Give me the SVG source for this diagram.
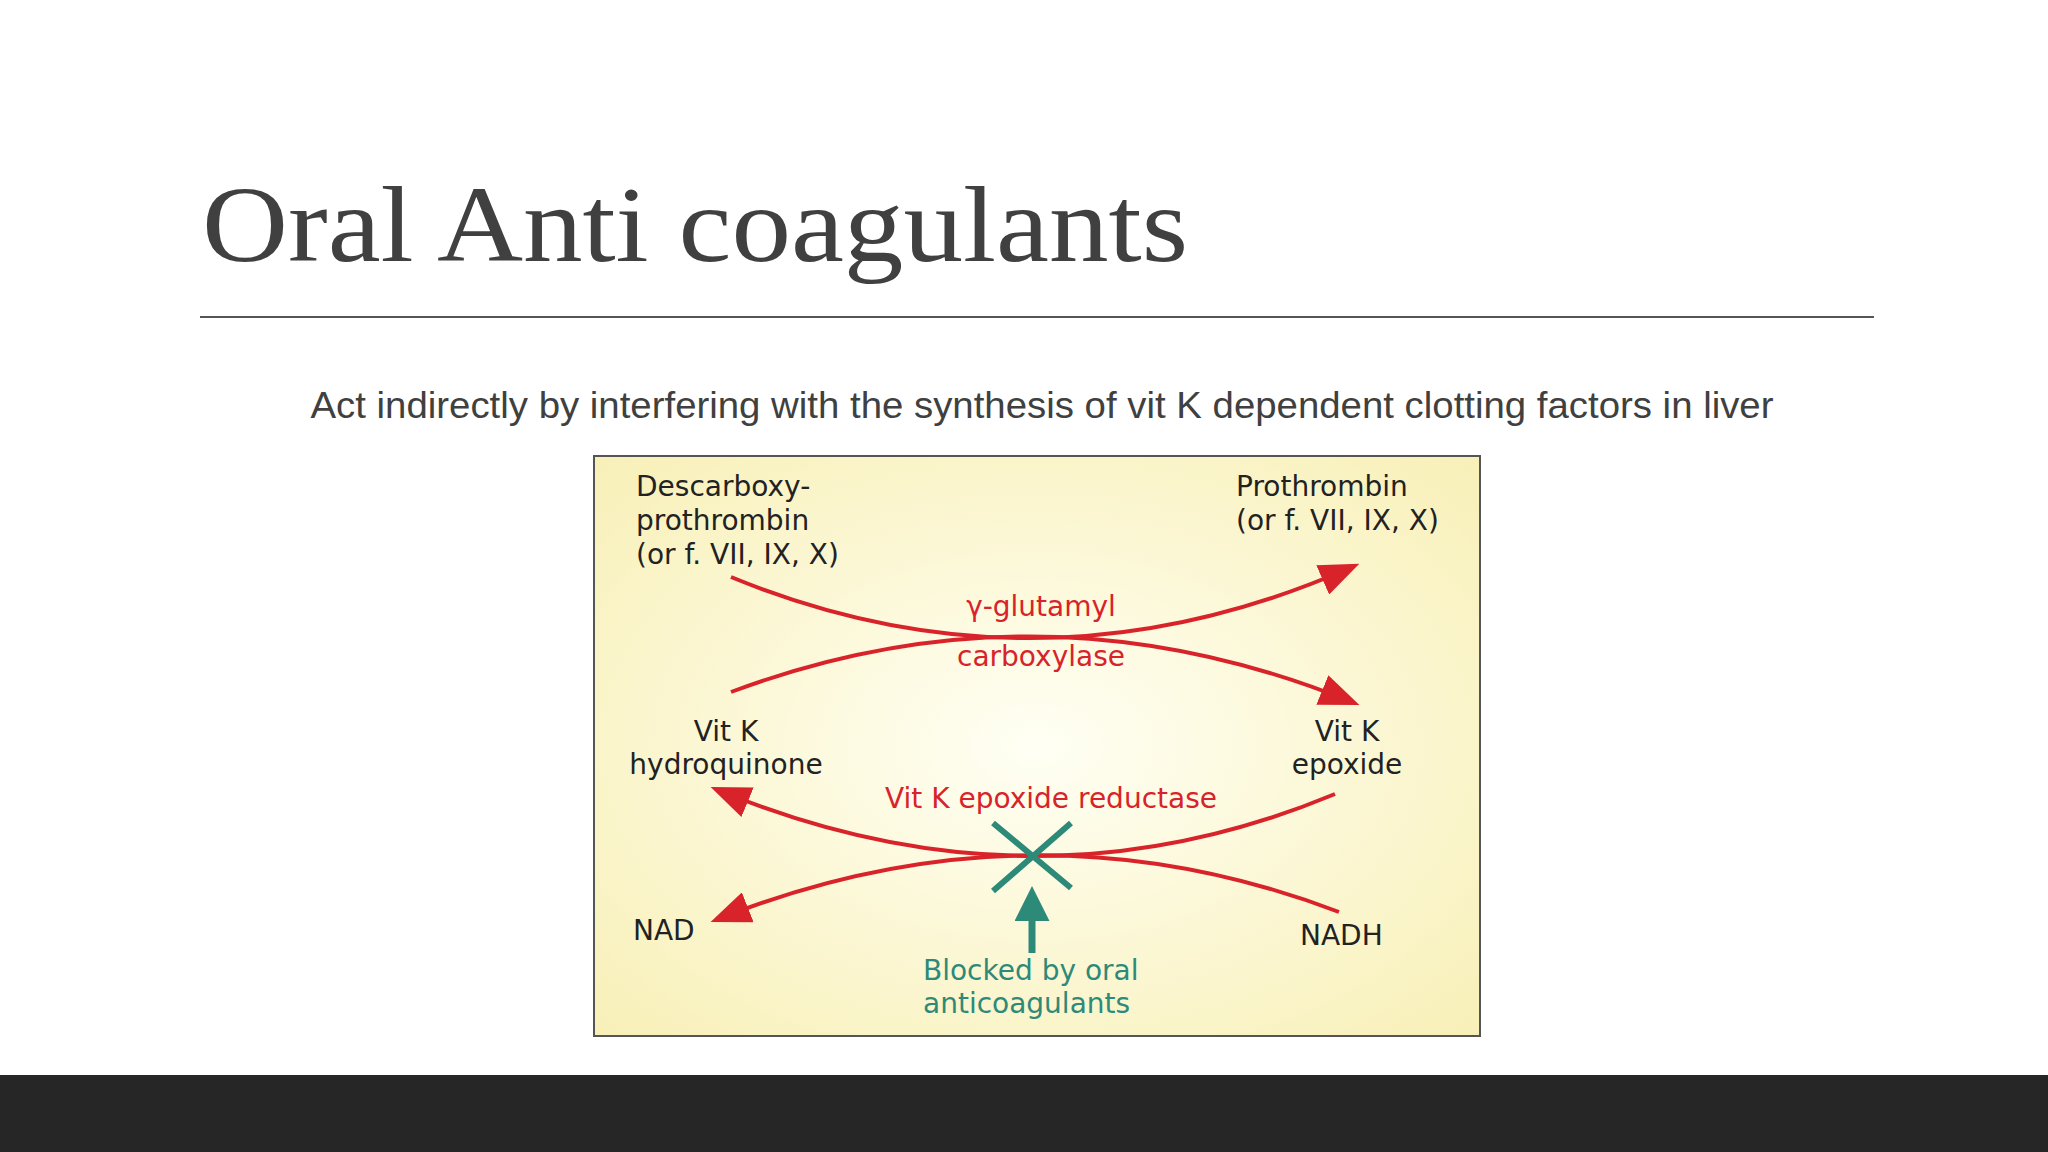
<svg xmlns="http://www.w3.org/2000/svg" width="2048" height="1152" viewBox="0 0 2048 1152">
<style>
.t{font-family:"DejaVu Sans","Liberation Sans",sans-serif;font-size:28px;fill:#222}
.r{fill:#d8232a}
.g{fill:#2e8a78}
.c{fill:none;stroke:#d8232a;stroke-width:4}
</style>
<defs>
<radialGradient id="bg" cx="0.5" cy="0.5" r="0.7">
<stop offset="0" stop-color="#fffff4"/><stop offset="1" stop-color="#f8f0b8"/>
</radialGradient>
<marker id="ar" markerWidth="10" markerHeight="8" refX="8" refY="4" orient="auto" markerUnits="strokeWidth">
<path d="M0,0 L10,4 L0,8 Z" fill="#d8232a"/></marker>
<marker id="ag" markerWidth="5" markerHeight="5" refX="3" refY="2.5" orient="auto" markerUnits="strokeWidth">
<path d="M0,0 L5,2.5 L0,5 Z" fill="#2e8a78"/></marker>
</defs>
<rect width="2048" height="1152" fill="#fff"/>
<rect y="1075" width="2048" height="77" fill="#262626"/>
<text x="202" y="261" font-family="'Liberation Serif','DejaVu Serif',serif" font-size="108" fill="#404040" textLength="986" lengthAdjust="spacingAndGlyphs">Oral Anti coagulants</text>
<line x1="200" y1="317" x2="1874" y2="317" stroke="#555" stroke-width="2"/>
<text x="1042" y="418" text-anchor="middle" font-family="'Liberation Sans',Arial,sans-serif" font-size="36" fill="#404040" textLength="1463" lengthAdjust="spacingAndGlyphs">Act indirectly by interfering with the synthesis of vit K dependent clotting factors in liver</text>
<g id="box"><rect x="594" y="456" width="886" height="580" fill="url(#bg)" stroke="#555" stroke-width="2"/></g>
<g id="connectors">
<path class="c" d="M731,577 Q1041,704 1352,567" marker-end="url(#ar)"/>
<path class="c" d="M731,692 Q1041,576 1352,702" marker-end="url(#ar)"/>
<path class="c" d="M1335,794 Q1032,920 718,790" marker-end="url(#ar)"/>
<path class="c" d="M1339,912 Q1032,795 718,919" marker-end="url(#ar)"/>
<line x1="1032" y1="953" x2="1032" y2="900" stroke="#2e8a78" stroke-width="7" marker-end="url(#ag)"/>
<path d="M993,823 L1071,888 M1071,823 L993,891" stroke="#2e8a78" stroke-width="6" fill="none"/>
</g>
<g id="n1"><text class="t" x="636" y="496">Descarboxy-</text><text class="t" x="636" y="530">prothrombin</text><text class="t" x="636" y="564">(or f. VII, IX, X)</text></g>
<g id="n2"><text class="t" x="1236" y="496">Prothrombin</text><text class="t" x="1236" y="530">(or f. VII, IX, X)</text></g>
<g id="n3"><text class="t r" x="1041" y="616" text-anchor="middle">γ-glutamyl</text><text class="t r" x="1041" y="666" text-anchor="middle">carboxylase</text></g>
<g id="n4"><text class="t" x="726" y="741" text-anchor="middle">Vit K</text><text class="t" x="726" y="774" text-anchor="middle">hydroquinone</text></g>
<g id="n5"><text class="t" x="1347" y="741" text-anchor="middle">Vit K</text><text class="t" x="1347" y="774" text-anchor="middle">epoxide</text></g>
<g id="n6"><text class="t r" x="1051" y="808" text-anchor="middle">Vit K epoxide reductase</text></g>
<g id="n7"><text class="t" x="633" y="940">NAD</text></g>
<g id="n8"><text class="t" x="1300" y="945">NADH</text></g>
<g id="n9"><text class="t g" x="923" y="980">Blocked by oral</text><text class="t g" x="923" y="1013">anticoagulants</text></g>
</svg>
